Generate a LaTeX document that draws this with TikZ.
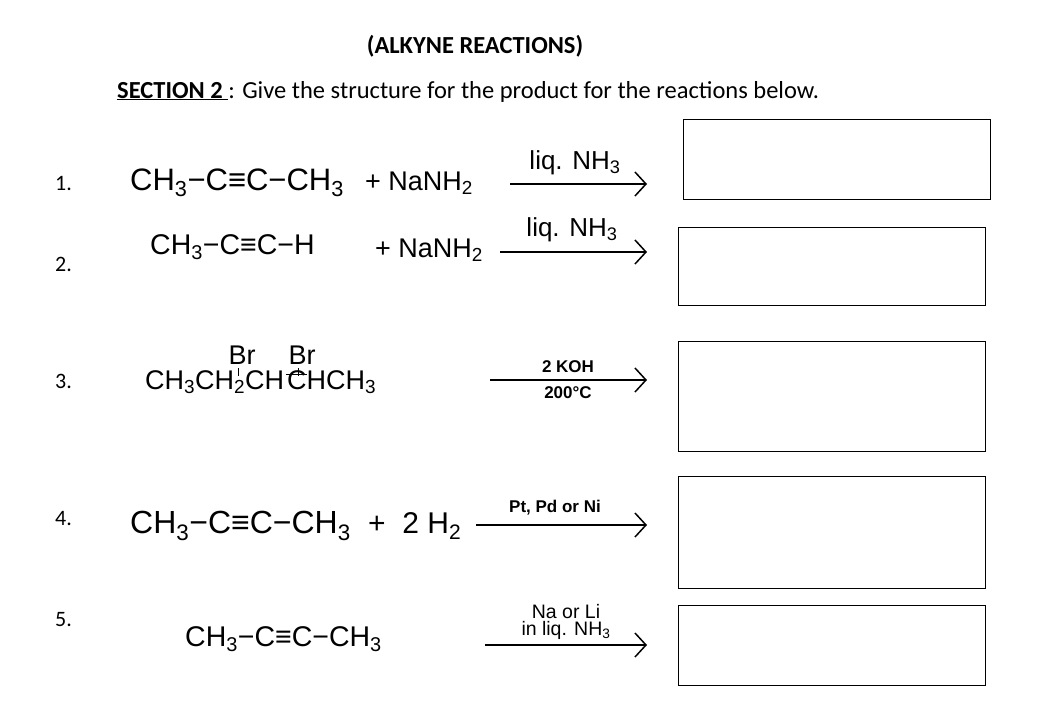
\documentclass[tikz,border=0pt]{standalone}
\usepackage{fontspec}
\setmainfont{Liberation Sans}
\newfontfamily\carfont{Carlito}
\usetikzlibrary{arrows.meta}
\tikzset{
 chem/.style={anchor=base west,inner sep=0pt},
 num/.style={anchor=base west,inner sep=0pt,font=\carfont\fontsize{22}{26}\selectfont},
 rxn/.style={line width=1.2pt,-{Straight Barb[length=11pt,width=24pt,line width=1.5pt]}},
 ans/.style={draw,line width=0.9pt},
 lab/.style={inner sep=0pt}
}
\newcommand{\chsub}[1]{\textsubscript{#1}}
\begin{document}
\begin{tikzpicture}[x=1pt,y=-1pt]
\useasboundingbox (0,0) rectangle (1043,704);
\node[lab,font=\carfont\bfseries\fontsize{24.5}{28}\selectfont] (title) at (475,46) {(ALKYNE REACTIONS)};
\node[chem,font=\carfont\fontsize{24.5}{28}\selectfont] (sec) at (117,98) {\underline{\textbf{SECTION 2 }}: Give the structure for the product for the reactions below.};
% 1
\node[num] (n1) at (55,190) {1.};
\node[chem,font=\fontsize{31}{36}\selectfont] (r1) at (130,190) {CH\chsub{3}−C≡C−CH\chsub{3}};
\node[chem,font=\fontsize{27}{31}\selectfont] (p1) at (365,190) {+ NaNH\chsub{2}};
\coordinate (a1s) at (510,184); \coordinate (a1e) at (647,184);
\draw[rxn] (a1s) -- (a1e);
\node[lab,font=\fontsize{26}{30}\selectfont] (l1) at (575,163) {liq. NH\chsub{3}};
\node[ans,minimum width=307pt,minimum height=80pt,anchor=north west] (b1) at (683,119) {};
% 2
\node[num] (n2) at (55,271) {2.};
\node[chem,font=\fontsize{28.5}{33}\selectfont] (r2) at (150,254) {CH\chsub{3}−C≡C−H};
\node[chem,font=\fontsize{27}{31}\selectfont] (p2) at (375,257) {+ NaNH\chsub{2}};
\coordinate (a2s) at (500,252); \coordinate (a2e) at (647,252);
\draw[rxn] (a2s) -- (a2e);
\node[lab,font=\fontsize{26}{30}\selectfont] (l2) at (572,230) {liq. NH\chsub{3}};
\node[ans,minimum width=307pt,minimum height=78pt,anchor=north west] (b2) at (678,227) {};
% 3
\node[num] (n3) at (55,388) {3.};
\node[chem,font=\fontsize{27}{31}\selectfont] (r3a) at (145,389) {CH\chsub{3}CH\chsub{2}CH};
\node[chem,font=\fontsize{27}{31}\selectfont] (r3b) at (287,389) {CHCH\chsub{3}};
\draw[line width=0.8pt] (r3a.east) ++(2,-8) coordinate (bd1) -- ++(21,0) coordinate (bd2);
\node[lab,font=\fontsize{27}{31}\selectfont] (br1) at (242,355) {Br};
\node[lab,font=\fontsize{27}{31}\selectfont] (br2) at (302,355) {Br};
\draw[line width=0.7pt] (br1.south) ++(-4,4) -- ++(0,8);
\draw[line width=0.7pt] (br2.south) ++(-4,4) -- ++(0,8);
\coordinate (a3s) at (490,380); \coordinate (a3e) at (647,380);
\draw[rxn] (a3s) -- (a3e);
\node[lab,font=\bfseries\fontsize{17}{20}\selectfont] (l3a) at (568,367) {2 KOH};
\node[lab,font=\bfseries\fontsize{17}{20}\selectfont] (l3b) at (568,393) {200°C};
\node[ans,minimum width=307pt,minimum height=110pt,anchor=north west] (b3) at (678,341) {};
% 4
\node[num] (n4) at (55,525) {4.};
\node[chem,font=\fontsize{32}{37}\selectfont] (r4) at (130,533) {CH\chsub{3}−C≡C−CH\chsub{3}};
\node[chem,font=\fontsize{30}{35}\selectfont] (p4) at (368,533) {+\ \ 2 H\chsub{2}};
\coordinate (a4s) at (476,525); \coordinate (a4e) at (647,525);
\draw[rxn] (a4s) -- (a4e);
\node[lab,font=\bfseries\fontsize{17}{20}\selectfont] (l4) at (555,508) {Pt, Pd or Ni};
\node[ans,minimum width=307pt,minimum height=112pt,anchor=north west] (b4) at (678,476) {};
% 5
\node[num] (n5) at (55,626) {5.};
\node[chem,font=\fontsize{28.5}{33}\selectfont] (r5) at (185,646) {CH\chsub{3}−C≡C−CH\chsub{3}};
\coordinate (a5s) at (485,645); \coordinate (a5e) at (647,645);
\draw[rxn] (a5s) -- (a5e);
\node[lab,font=\fontsize{19.5}{23}\selectfont] (l5a) at (566,612) {Na or Li};
\node[lab,font=\fontsize{19.5}{23}\selectfont] (l5b) at (566,630) {in liq. NH\chsub{3}};
\node[ans,minimum width=307pt,minimum height=80pt,anchor=north west] (b5) at (678,605) {};
\end{tikzpicture}
\end{document}
